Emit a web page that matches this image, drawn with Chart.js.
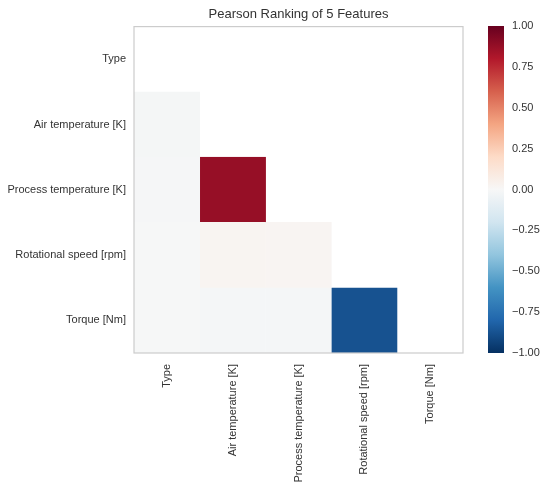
<!DOCTYPE html>
<html>
<head>
<meta charset="utf-8">
<script src="https://cdn.jsdelivr.net/npm/chart.js@4/dist/chart.umd.min.js"></script>
<style>
    html, body { margin: 0; padding: 0; background: #fff; }
    #wrap { position: relative; width: 550px; height: 489px; }
    #main { position: absolute; left: 0; top: 0; }
    #bar { position: absolute; left: 470px; top: 0; }
</style>
</head>
<body>
<div id="wrap">
    <canvas id="main" width="475" height="489"></canvas>
    <canvas id="bar" width="80" height="489"></canvas>
</div>
<script>
/* =======================
   DATI
======================= */

const features = [
    "Type",
    "Air temperature [K]",
    "Process temperature [K]",
    "Rotational speed [rpm]",
    "Torque [Nm]"
];

// triangolo inferiore della matrice di Pearson (riga i, colonne 0..i-1)
const typeCorr = [];
const airTempCorr = [-0.015];
const processTempCorr = [-0.012, 0.876];
const rotSpeedCorr = [-0.003, 0.023, 0.019];
const torqueCorr = [-0.004, -0.014, -0.014, -0.875];

const colorbarTicks = [-1, -0.75, -0.5, -0.25, 0, 0.25, 0.5, 0.75, 1];

// RdBu_r, da -1 a +1
const rdbuStops = [
    "#053061", "#2166ac", "#4393c3", "#92c5de", "#d1e5f0", "#f7f7f7",
    "#fddbc7", "#f4a582", "#d6604d", "#b2182b", "#67001f"
];

const righe = [typeCorr, airTempCorr, processTempCorr, rotSpeedCorr, torqueCorr];

/* =======================
   UTILITIES
======================= */

function hexToRgb(h) {
    return [1, 3, 5].map(i => parseInt(h.slice(i, i + 2), 16));
}

function coloreDa(v) {
    const pos = (v + 1) / 2 * (rdbuStops.length - 1);
    const i = Math.min(Math.floor(pos), rdbuStops.length - 2);
    const t = pos - i;
    const a = hexToRgb(rdbuStops[i]);
    const b = hexToRgb(rdbuStops[i + 1]);
    const c = a.map((x, k) => Math.round(x + (b[k] - x) * t));
    return `rgb(${c[0]}, ${c[1]}, ${c[2]})`;
}

const FONT = "'Liberation Sans', Arial, sans-serif";
const TESTO = "#333333";

/* =======================
   HEATMAP
======================= */

// una serie per colonna, barre orizzontali flottanti su asse lineare
const datasets = features.slice(0, -1).map((f, c) => ({
    label: f,
    data: righe.map(r => (c < r.length ? [c - 0.5, c + 0.5] : null)),
    backgroundColor: righe.map(r => (c < r.length ? coloreDa(r[c]) : "#ffffff")),
    borderColor: righe.map(r => (c < r.length ? coloreDa(r[c]) : "#ffffff")),
    borderWidth: 0.5,
    borderSkipped: false,
    grouped: false,
    barPercentage: 1,
    categoryPercentage: 1
}));

const cornice = {
    id: "cornice",
    // titolo centrato sull'area del grafico, non sul canvas
    afterLayout(chart) {
        if (chart.titleBlock) {
            chart.titleBlock.left = chart.chartArea.left;
            chart.titleBlock.right = chart.chartArea.right;
            chart.titleBlock.width = chart.chartArea.right - chart.chartArea.left;
        }
    },
    afterDraw(chart) {
        const a = chart.chartArea;
        const ctx = chart.ctx;
        ctx.save();
        ctx.strokeStyle = "#cccccc";
        ctx.lineWidth = 1.2;
        ctx.strokeRect(a.left, a.top, a.right - a.left, a.bottom - a.top);
        ctx.restore();
    }
};

new Chart(document.getElementById("main"), {
    type: "bar",
    data: { labels: features, datasets: datasets },
    options: {
        indexAxis: "y",
        responsive: false,
        animation: false,
        layout: { padding: { left: 0, right: 12, top: 1, bottom: 0 } },
        scales: {
            x: {
                type: "linear",
                min: -0.5,
                max: 4.5,
                afterBuildTicks: s => { s.ticks = features.map((f, i) => ({ value: i })); },
                afterFit: s => { s.height = 136; },
                grid: { display: false, drawTicks: false },
                border: { display: false },
                ticks: {
                    callback: v => features[v],
                    minRotation: 90,
                    maxRotation: 90,
                    autoSkip: false,
                    padding: 11,
                    color: TESTO,
                    font: { family: FONT, size: 11 }
                }
            },
            y: {
                type: "category",
                afterFit: s => { s.width = 134; },
                grid: { display: false, drawTicks: false },
                border: { display: false },
                ticks: {
                    padding: 8,
                    color: TESTO,
                    font: { family: FONT, size: 11 }
                }
            }
        },
        plugins: {
            legend: { display: false },
            tooltip: { enabled: false },
            title: {
                display: true,
                text: "Pearson Ranking of 5 Features",
                color: TESTO,
                font: { family: FONT, size: 13, weight: "normal" },
                padding: { top: 6, bottom: 4 }
            }
        }
    },
    plugins: [cornice]
});

/* =======================
   COLORBAR
======================= */

function gradiente(context) {
    const chart = context.chart;
    const a = chart.chartArea;
    if (!a) return "#f7f7f7";
    const g = chart.ctx.createLinearGradient(0, a.bottom, 0, a.top);
    rdbuStops.forEach((c, i) => g.addColorStop(i / (rdbuStops.length - 1), c));
    return g;
}

new Chart(document.getElementById("bar"), {
    type: "bar",
    data: {
        labels: ["scala"],
        datasets: [{
            data: [[colorbarTicks[0], colorbarTicks[colorbarTicks.length - 1]]],
            backgroundColor: gradiente,
            borderWidth: 0,
            barPercentage: 1,
            categoryPercentage: 1
        }]
    },
    options: {
        responsive: false,
        animation: false,
        layout: { padding: { left: 18, right: 0, top: 26, bottom: 136 } },
        scales: {
            x: { display: false },
            y: {
                type: "linear",
                position: "right",
                min: -1,
                max: 1,
                afterFit: s => { s.width = 46; },
                afterBuildTicks: s => { s.ticks = colorbarTicks.map(v => ({ value: v })); },
                grid: { display: false, drawTicks: false },
                border: { display: false },
                ticks: {
                    padding: 8,
                    color: TESTO,
                    font: { family: FONT, size: 11 },
                    callback: v => v.toFixed(2).replace("-", "\u2212")
                }
            }
        },
        plugins: {
            legend: { display: false },
            tooltip: { enabled: false }
        }
    }
});
</script>
</body>
</html>
